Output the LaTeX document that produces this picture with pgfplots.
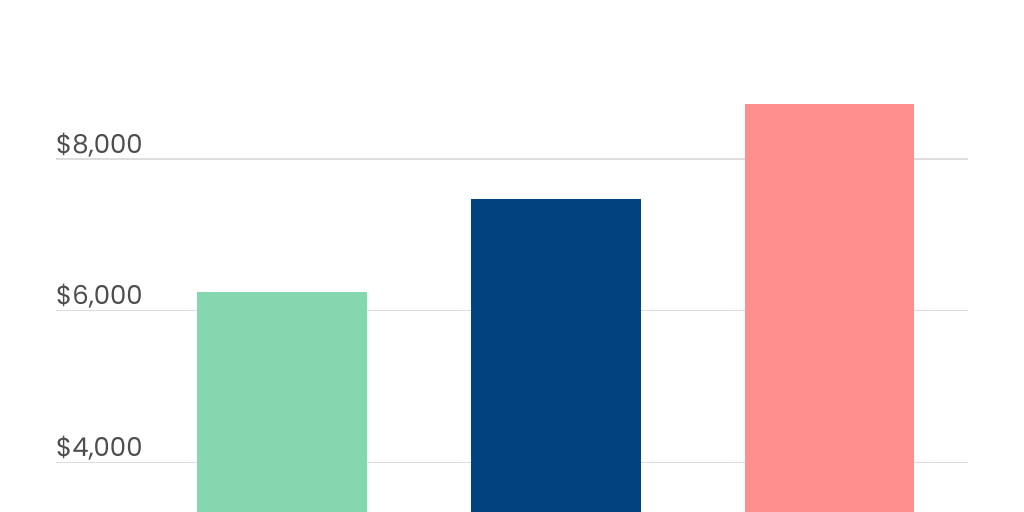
\documentclass[border=0pt]{standalone}
\usepackage{pgfplots}
\pgfplotsset{compat=1.18}
\usepackage{fontspec}
\setmainfont{Poppins}
\definecolor{cgreen}{HTML}{84D7AE}
\definecolor{cblue}{HTML}{02427E}
\definecolor{cpink}{HTML}{FF8F8F}
\definecolor{cgrid}{HTML}{DDDDDD}
\definecolor{ctext}{HTML}{4D4D4D}
\begin{document}
\begin{tikzpicture}
\useasboundingbox (-56bp,0) rectangle (968bp,512bp);
\begin{axis}[
  at={(0,0)}, anchor=south west,
  scale only axis, width=912bp, height=512bp,
  xmin=-0.8266, xmax=2.506,
  ymin=3344, ymax=10098,
  axis line style={draw=none},
  ytick={4000,6000,8000},
  yticklabels={{\$4,000},{\$6,000},{\$8,000}},
  yticklabel style={anchor=base west, inner sep=0pt, xshift=0bp, yshift=6bp, font=\fontsize{26}{30}\selectfont, text=ctext},
  xtick=\empty,
  major tick length=0pt,
  ymajorgrids, grid style={cgrid, line width=1.5bp},
  ybar, bar width=169.7bp, bar shift=0pt,
]
\addplot[fill=cgreen, draw=none] coordinates {(0,6247)};
\addplot[fill=cblue, draw=none] coordinates {(1,7468)};
\addplot[fill=cpink, draw=none] coordinates {(2,8726)};
\end{axis}
\end{tikzpicture}
\end{document}
